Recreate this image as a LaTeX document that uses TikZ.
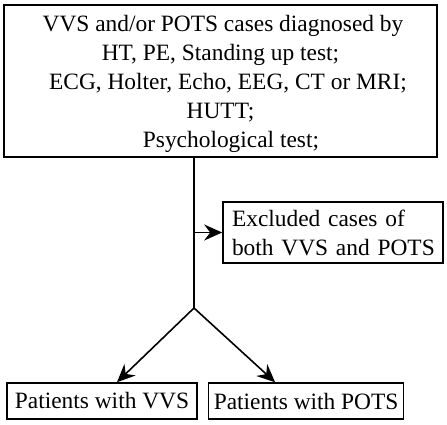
\documentclass[tikz,border=0pt]{standalone}
\usepackage{fontspec}
\setmainfont{Liberation Serif}
\usetikzlibrary{arrows.meta,positioning}

\begin{document}
\begin{tikzpicture}[x=1pt, y=-1pt,
    box/.style={draw, rectangle, line width=1.6pt, inner sep=0pt, font=\fontsize{23.4}{29}\selectfont},
    arr/.style={line width=1.6pt}]
    \useasboundingbox (0,0) rectangle (447,424);
    % Nodes
    \node[box, minimum width=433pt, minimum height=152pt, align=center] (diag) at (220.5,81) {%
        \rule{0pt}{23pt}\hspace{5pt}VVS and/or POTS cases diagnosed by\\
        HT, PE, Standing up test;\hspace{28pt}\\
        \hspace{15pt}ECG, Holter, Echo, EEG, CT or MRI;\\
        HUTT;\\
        \hspace{21pt}Psychological test;};
    \node[box, minimum width=220pt, minimum height=61pt, text width=212pt, align=left] (excl) at (333,232.5) {%
        \hspace{5pt}Excluded cases of\\
        \hspace{5pt}both VVS and POTS};
    \node[box, minimum width=190pt, minimum height=36pt] (vvs) at (102,401) {Patients with VVS};
    \node[box, minimum width=195pt, minimum height=36pt, right=10pt of vvs] (pots) {Patients with POTS};
    \coordinate (split) at (194,308);
    
    % Connections
    \draw[arr] (diag.south -| split) -- (split);
    \draw[arr, -{Stealth[length=18pt, width=16pt, inset=6pt]}] (split |- excl.west) -- (excl.west);
    \draw[arr, -{Stealth[length=18pt, width=16pt, inset=6pt]}] (split) -- ([xshift=15pt]vvs.north);
    \draw[arr, -{Stealth[length=18pt, width=16pt, inset=6pt]}] (split) -- ([xshift=-31pt]pots.north);
\end{tikzpicture}
\end{document}
